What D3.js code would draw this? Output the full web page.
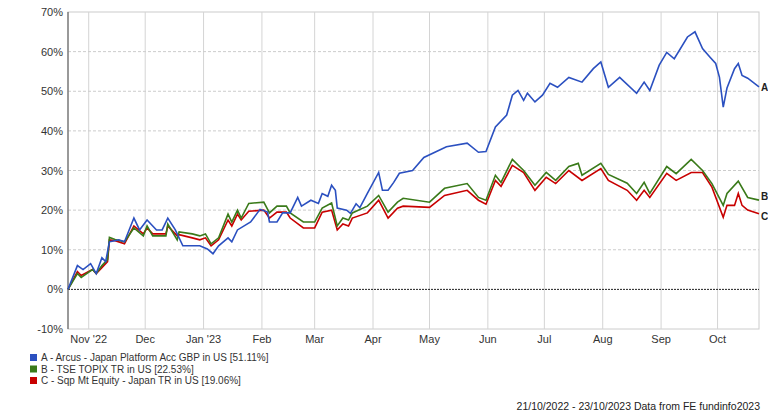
<!DOCTYPE html><html><head><meta charset="utf-8"><script src="https://cdn.jsdelivr.net/npm/d3@7"></script>
<style>body{margin:0;background:#fff}text{font-family:"Liberation Sans",Arial,sans-serif}</style></head><body><svg id="c" width="768" height="413"></svg>
<script>
// days since 21/10/2022, values in %
const aDays=[0,5,8,12,15,18,20,22,27,30,35,38,42,47,50,53,57,61,70,74,77,80,85,87,90,97,102,106,107,111,114,118,122,124,129,133,135,138,140,142,143,148,150,153,155,159,165,167,170,173,176,183,189,201,212,218,222,227,233,236,239,242,244,248,252,256,260,266,273,279,283,287,293,302,306,309,314,318,322,329,333,337,341,344,346,348,350,354,356,358,361,367];
const aVals=[0,6,5,6.5,4,8,7,12,12.5,12,18,15,17.5,15,15,18,15,11,11,10.2,9,11,13,12,15,17,20.2,19.5,17,17,19.3,19.3,23.2,21,22.5,21.7,24.2,23.5,26.3,25,20.5,20,19.2,21.6,20.6,24.2,29.5,25,25,27,29.3,30,33.3,36,36.9,34.6,34.8,41,44,49,50.2,47.7,49.5,47.3,49,52,51,53.5,52.3,55.7,57.4,51,53.5,49.5,52.3,50.2,56.6,59.8,58.2,63.7,65,60.8,58.6,57,53.5,46,50.8,55.7,57,54,53.3,51.11];
const bDays=[0,5,7,13,15,18,21,22,25,30,35,40,42,45,52,53,58,59,66,70,73,76,80,85,87,90,92,96,104,107,111,116,118,125,131,135,140,143,146,149,151,159,165,170,175,178,192,200,212,218,222,227,230,236,242,248,254,259,266,271,273,283,287,297,302,306,309,318,323,331,337,342,348,350,356,361,367];
const bVals=[0,4,3,5,4,6,7.5,13.1,12.6,12,15.5,13.5,16,13.5,13.5,16.5,12.5,14.5,14,13.5,14,11.5,13,19,17,20,18,21.7,22,19.3,21,21,19.3,17,17,20.5,21.8,16,18,17.5,19.3,21,23.7,19.5,22,23,22,25.5,26.7,23.2,22.5,28.8,27,32.8,30,26.3,29.5,27.5,31,31.8,28.8,31.8,29,26.8,24.2,27,24.2,31,29.2,32.8,30,26.7,21.2,24.2,27.3,23.2,22.53];
const cDays=[0,5,7,13,15,18,21,22,25,30,35,40,42,45,52,53,58,59,66,70,73,76,80,85,87,90,92,96,104,107,111,116,118,125,131,135,140,143,146,149,151,159,165,170,175,178,192,200,212,218,222,227,230,236,242,248,254,259,266,273,283,287,297,302,306,309,318,323,331,337,342,348,350,354,356,358,361,367];
const cVals=[0,4.5,3.5,5,4,5.5,7,12.5,12.3,11.5,16,14,15.5,14,14,16,13.5,13.8,13,12.5,13,11,12.5,17.5,16,19,17.5,19.7,20,18,19.5,19.5,18,15.5,15.5,19.5,20,15,16.5,16,18,19.3,22.5,18,20.5,21,20.7,23.7,25,22.5,21.5,27.5,26,31.3,29.5,25,28.3,26.7,30,27.5,30.5,27.5,25,22.5,25,23.2,29.3,27.5,29.5,29.5,25.8,18.2,21.2,21.2,24.2,21.2,20,19.06];
const yTicks=[-10,0,10,20,30,40,50,60,70];
const monthTicks=["2022-11-01","2022-12-01","2023-01-01","2023-02-01","2023-03-01","2023-04-01","2023-05-01","2023-06-01","2023-07-01","2023-08-01","2023-09-01","2023-10-01"];
const monthLabels=["Nov '22","Dec","Jan '23","Feb","Mar","Apr","May","Jun","Jul","Aug","Sep","Oct"];
const names=["A - Arcus - Japan Platform Acc GBP in US [51.11%]","B - TSE TOPIX TR in US [22.53%]","C - Sqp Mt Equity - Japan TR in US [19.06%]"];
const colors=["#2b50c0","#3a7a1a","#c80000"];
const endLetters=["A","B","C"];
const footer="21/10/2022 - 23/10/2023 Data from FE fundinfo2023";

const start=new Date(2022,9,21), end=new Date(2023,9,23);
const dd=d=>new Date(start.getTime()+d*864e5);
const svg=d3.select("#c");
const L=68,R=759,T=12,B=329;
const x=d3.scaleTime().domain([start,end]).range([L,R]);
const y=d3.scaleLinear().domain([-10,70]).range([B,T]);
svg.append("rect").attr("x",L).attr("y",T).attr("width",R-L).attr("height",B-T).attr("fill","none").attr("stroke","#ccc");
const mt=monthTicks.map(s=>new Date(s+"T00:00:00"));
svg.selectAll(".vg").data(mt).enter().append("line").attr("x1",d=>x(d)).attr("x2",d=>x(d)).attr("y1",T).attr("y2",B).attr("stroke","#d4d4d4");
svg.selectAll(".hg").data(yTicks.filter(t=>t!==0&&t!==70&&t!==-10)).enter().append("line").attr("x1",L).attr("x2",R).attr("y1",d=>y(d)).attr("y2",d=>y(d)).attr("stroke","#ccc").attr("stroke-dasharray","3,2");
svg.append("line").attr("x1",L).attr("x2",R).attr("y1",y(0)).attr("y2",y(0)).attr("stroke","#222").attr("stroke-dasharray","2,1");
svg.append("line").attr("x1",L).attr("x2",L).attr("y1",T).attr("y2",B).attr("stroke","#666").attr("stroke-width",1.2);
svg.selectAll(".yl").data(yTicks).enter().append("text").attr("x",L-5).attr("y",d=>y(d)+4).attr("text-anchor","end").attr("font-size",11).attr("fill","#333").text(d=>d+"%");
svg.selectAll(".xl").data(mt).enter().append("text").attr("x",d=>x(d)).attr("y",343).attr("text-anchor","middle").attr("font-size",11).attr("fill","#333").text((d,i)=>monthLabels[i]);
const series=[[aDays,aVals],[bDays,bVals],[cDays,cVals]];
const line=d3.line().x(d=>x(d[0])).y(d=>y(d[1]));
[2,1,0].forEach(i=>{
  const pts=series[i][0].map((d,j)=>[dd(d),series[i][1][j]]);
  svg.append("path").attr("d",line(pts)).attr("fill","none").attr("stroke",colors[i]).attr("stroke-width",1.6);
  const last=pts[pts.length-1];
  svg.append("text").attr("x",R+2).attr("y",y(last[1])+(i==2?6:i==1?0:4)).attr("font-size",10).attr("font-weight","bold").attr("fill","#222").text(endLetters[i]);
});
names.forEach((n,i)=>{
  svg.append("rect").attr("x",30).attr("y",354+i*11.5).attr("width",7).attr("height",7).attr("fill",colors[i]);
  svg.append("text").attr("x",41).attr("y",361+i*11.5).attr("font-size",10).attr("fill","#333").text(n);
});
svg.append("text").attr("x",760).attr("y",410).attr("text-anchor","end").attr("font-size",10.5).attr("fill","#222").text(footer);
</script></body></html>
